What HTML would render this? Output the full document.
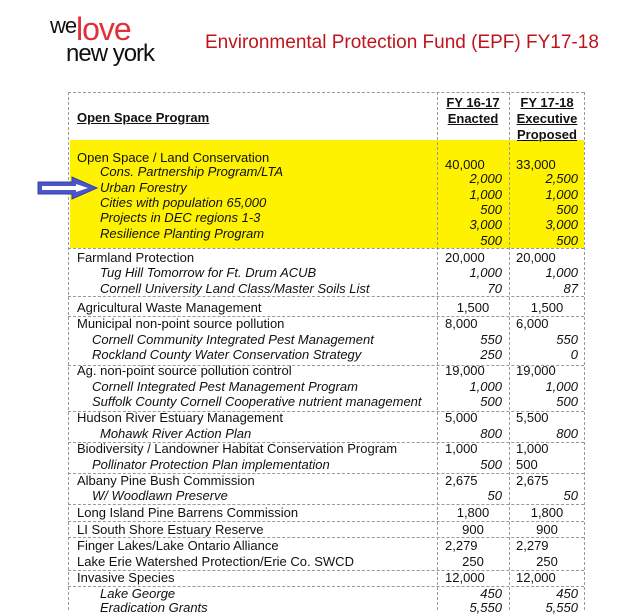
<!DOCTYPE html>
<html><head><meta charset="utf-8">
<style>
body{margin:0;width:640px;height:610px;background:#fff;position:relative;overflow:hidden;font-family:"Liberation Sans",Arial,sans-serif;}
.t{position:absolute;font-size:13px;line-height:16px;white-space:nowrap;color:#111;}
.i{font-style:italic;}
.hl{position:absolute;left:68px;width:516px;height:0;border-top:1px dashed #999;}
.vl{position:absolute;width:0;border-left:1px dashed #999;}
.h{font-weight:bold;text-decoration:underline;}
</style></head><body>
<div style="position:absolute;left:40px;top:10px;width:140px;height:60px;">
  <span style="position:absolute;left:10px;top:3px;font-size:22px;letter-spacing:-1px;color:#111;">we</span>
  <span style="position:absolute;left:36px;top:3px;font-size:32px;line-height:32px;letter-spacing:-1px;color:#e0303a;">love</span>
  <span style="position:absolute;left:26px;top:31px;font-size:24px;line-height:26px;letter-spacing:-1px;color:#111;">new york</span>
</div>
<div class="t" style="left:205px;top:32px;font-size:19px;line-height:22px;color:#c0141c;">Environmental Protection Fund (EPF) FY17-18</div>

<div style="position:absolute;left:70px;top:140px;width:514px;height:108px;background:#fff200;"></div>

<div class="hl" style="top:92px;"></div>
<div class="vl" style="left:68px;top:92px;height:518px;"></div>
<div class="vl" style="left:437px;top:92px;height:518px;"></div>
<div class="vl" style="left:509px;top:92px;height:518px;"></div>
<div class="vl" style="left:584px;top:92px;height:518px;"></div>

<div class="t h" style="left:77px;top:110px;">Open Space Program</div>
<div class="t h" style="left:438px;width:70px;text-align:center;top:95px;">FY 16-17<br>Enacted</div>
<div class="t h" style="left:510px;width:74px;text-align:center;top:95px;">FY 17-18<br>Executive<br>Proposed</div>

<svg style="position:absolute;left:0;top:0" width="120" height="210">
  <path d="M38 182 L72 182 L72 177 L97 188 L72 199 L72 194 L38 194 Z" fill="#4a55c8" stroke="#3540b0" stroke-width="1"/>
  <path d="M42 186 L76 186 L76 184 L88 188 L76 192 L76 190 L42 190 Z" fill="#fff"/>
</svg>

<div id="rows"></div>
<script>
const labels=["Open Space / Land Conservation","Cons. Partnership Program/LTA","Urban Forestry","Cities with population 65,000","Projects in DEC regions 1-3","Resilience Planting Program","Farmland Protection","Tug Hill Tomorrow for Ft. Drum ACUB","Cornell University Land Class/Master Soils List","Agricultural Waste Management","Municipal non-point source pollution","Cornell Community Integrated Pest Management","Rockland County Water Conservation Strategy","Ag. non-point source pollution control","Cornell Integrated Pest Management Program","Suffolk County Cornell Cooperative nutrient management","Hudson River Estuary Management","Mohawk River Action Plan","Biodiversity / Landowner Habitat Conservation Program","Pollinator Protection Plan implementation","Albany Pine Bush Commission","W/ Woodlawn Preserve","Long Island Pine Barrens Commission","LI South Shore Estuary Reserve","Finger Lakes/Lake Ontario Alliance","Lake Erie Watershed Protection/Erie Co. SWCD","Invasive Species","Lake George","Eradication Grants"];
const enacted=["40,000","2,000","1,000","500","3,000","500","20,000","1,000","70","1,500","8,000","550","250","19,000","1,000","500","5,000","800","1,000","500","2,675","50","1,800","900","2,279","250","12,000","450","5,550"];
const proposed=["33,000","2,500","1,000","500","3,000","500","20,000","1,000","87","1,500","6,000","550","0","19,000","1,000","500","5,500","800","1,000","500","2,675","50","1,800","900","2,279","250","12,000","450","5,550"];
const sub=[0,1,1,1,1,1,0,1,1,0,0,1,1,0,1,1,0,1,0,1,0,1,0,0,0,0,0,1,1];
const ys=[158,172,188,203,218,234,258,273,289,308,324,340,355,371,387,402,418,434,449,465,481,496,513,530,546,562,578,594,608];
const indent=[0,100,100,100,100,100,0,100,100,0,0,92,92,0,92,92,0,100,0,92,0,92,0,0,0,0,0,100,100];
const numY=[165,179,195,210,225,241];
const rules=[248,296,316,365,411,442,473,504,521,537,570,586];
const root=document.getElementById('rows');
function mk(txt,css,cls){const d=document.createElement('div');d.className='t'+(cls?' '+cls:'');d.textContent=txt;d.style.cssText=css;root.appendChild(d);return d;}
for(let i=0;i<labels.length;i++){
  const it=sub[i]===1;
  const a=mk(labels[i],'left:'+(it?indent[i]:77)+'px;top:'+(ys[i]-8)+'px;',it?'i':'');
  
  
  const y=(i<6?numY[i]:ys[i])-8;
  const center=(i===9||i===22||i===23||i===25);
  let s1,s2;
  if(center){s1='left:438px;width:70px;text-align:center;';s2='left:510px;width:74px;text-align:center;';}
  else if(it){s1='right:'+(640-502)+'px;';s2='right:'+(640-578)+'px;';}
  else{s1='left:445px;';s2='left:516px;';}
  if(i===19){s2='left:516px;';}
  const b=mk(enacted[i],s1+'top:'+y+'px;',it?'i':'');
  
  
  const c=mk(proposed[i],s2+'top:'+y+'px;',(it&&i!==19)?'i':'');
  
  
}
for(const r of rules){
  const l=document.createElement('div');l.className='hl';l.style.top=r+'px';root.appendChild(l);
  
  
}
</script>
</body></html>
